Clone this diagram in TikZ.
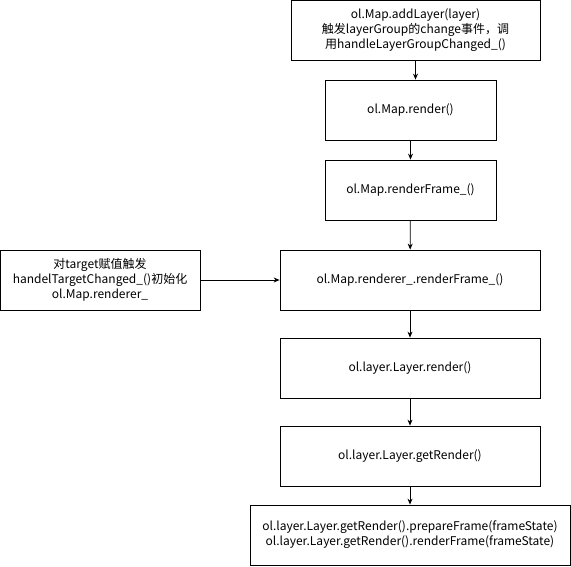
\documentclass[tikz,border=0pt]{standalone}
\usepackage{fontspec}
\setmainfont{Noto Sans CJK SC}
\usetikzlibrary{arrows.meta,positioning}

\tikzset{
  flowbox/.style = {draw, line width=0.8pt, align=center, inner sep=2pt,
    minimum height=60pt, font=\fontsize{12}{15}\selectfont},
  flowarrow/.style = {-{Stealth[length=6pt,width=5pt]}, line width=0.8pt}
}

\begin{document}
\begin{tikzpicture}[x=1pt, y=1pt]
  \useasboundingbox (0,0) rectangle (571,-566);

  \node[flowbox, minimum width=249pt] (addlayer) at (415.5,-30)
    {ol.Map.addLayer(layer)\\触发layerGroup的change事件，调\\用handleLayerGroupChanged\_()};
  \node[flowbox, minimum width=171pt] (maprender) at (410.5,-110) {ol.Map.render()};
  \node[flowbox, minimum width=171pt] (mapframe) at (410.5,-190) {ol.Map.renderFrame\_()};
  \node[flowbox, minimum width=260pt] (rendererframe) at (410,-280) {ol.Map.renderer\_.renderFrame\_()};
  \node[flowbox, minimum width=200pt] (target) at (100,-280)
    {对target赋值触发\\handelTargetChanged\_()初始化\\ol.Map.renderer\_};
  \node[flowbox, minimum width=260pt] (layerrender) at (410,-368) {ol.layer.Layer.render()};
  \node[flowbox, minimum width=260pt] (getrender) at (410,-456) {ol.layer.Layer.getRender()};
  \node[flowbox, minimum width=320pt] (frames) at (410,-535)
    {ol.layer.Layer.getRender().prepareFrame(frameState)\\ol.layer.Layer.getRender().renderFrame(frameState)};

  % flow between the steps
  \draw[flowarrow] (addlayer.south) -- (addlayer.south |- maprender.north);
  \draw[flowarrow] (maprender) -- (mapframe);
  \draw[flowarrow] (mapframe) -- (rendererframe);
  \draw[flowarrow] (target) -- (rendererframe);
  \draw[flowarrow] (rendererframe) -- (layerrender);
  \draw[flowarrow] (layerrender) -- (getrender);
  \draw[flowarrow] (getrender) -- (frames);
\end{tikzpicture}
\end{document}
